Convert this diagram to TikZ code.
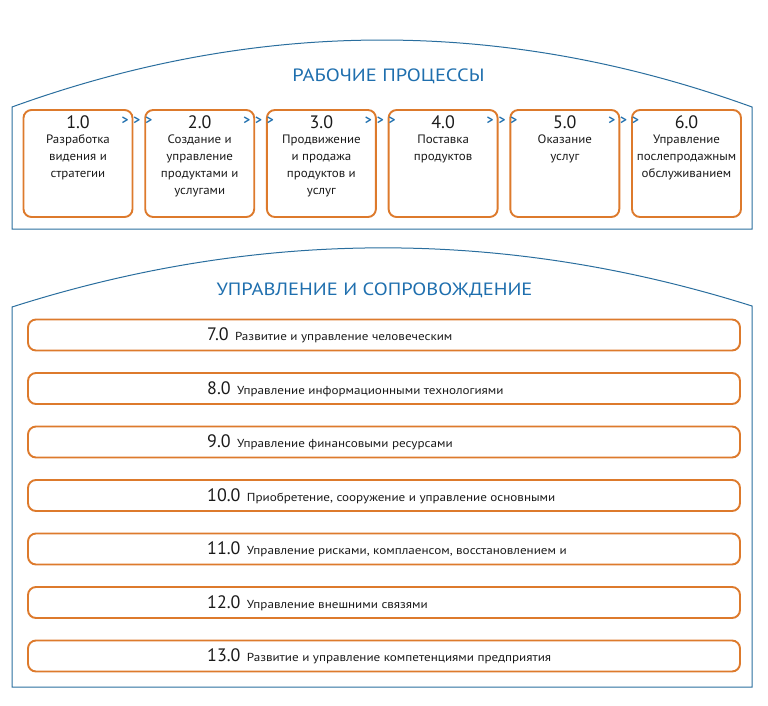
\documentclass[tikz,border=0pt]{standalone}
\usepackage{fontspec}
\setmainfont{PT Sans}
\newfontfamily\rowfont{PT Sans}[FakeStretch=1.13]
\newfontfamily\titlefont{PT Sans}[FakeStretch=1.15]
\newfontfamily\boxfont{PT Sans}[FakeStretch=1.06]
\definecolor{cblue}{HTML}{2A6E9E}
\definecolor{tblue}{HTML}{1F6FAE}
\definecolor{corange}{HTML}{DD7A2C}
\definecolor{ctext}{HTML}{1A1A1A}
\begin{document}
\begin{tikzpicture}[x=1pt,y=-1pt,
  container/.style={draw=cblue,line width=1pt},
  pbox/.style={draw=corange,line width=1.9pt,rounded corners=8pt,minimum width=109pt,minimum height=107pt,inner sep=0pt},
  rbox/.style={draw=corange,line width=1.9pt,rounded corners=8pt,minimum width=712pt,minimum height=31pt,inner sep=0pt},
  num/.style={font=\fontsize{18}{20}\selectfont,inner sep=0pt,text=ctext},
  ptext/.style={font=\boxfont\fontsize{12.2}{17}\selectfont,align=center,inner sep=0pt,text=ctext},
  rtext/.style={font=\rowfont\fontsize{11.6}{13}\selectfont,inner sep=0pt,text=ctext},
  title/.style={font=\titlefont\fontsize{17.8}{20}\selectfont,text=tblue,inner sep=0pt},
  chev/.style={font=\bfseries\fontsize{13}{14}\selectfont,text=tblue,inner sep=0pt}]
\useasboundingbox (0,0) rectangle (768,705);
% containers
\draw[container] (12,229) -- (12,107) .. controls (258.7,17.7) and (505.3,17.7) .. (752,107) -- (752,229) -- cycle;
\draw[container] (12,687) -- (12,307) .. controls (258.7,228.3) and (505.3,228.3) .. (752,306) -- (752,687) -- cycle;
% titles
\node[title,anchor=base] (t1) at (388.5,81) {РАБОЧИЕ ПРОЦЕССЫ};
\node[title,anchor=base] (t2) at (374.5,295) {УПРАВЛЕНИЕ И СОПРОВОЖДЕНИЕ};
% process boxes
\foreach \i/\n/\t in {1/1.0/{Разработка\\видения и\\стратегии},
                      2/2.0/{Создание и\\управление\\продуктами и\\услугами},
                      3/3.0/{Продвижение\\и продажа\\продуктов и\\услуг},
                      4/4.0/{Поставка\\продуктов},
                      5/5.0/{Оказание\\услуг},
                      6/6.0/{Управление\\послепродажным\\обслуживанием}}{
  \pgfmathsetmacro{\cx}{78+121.7*(\i-1)}
  \node[pbox] (p\i) at (\cx,163.5) {};
  \node[num,anchor=base] (pn\i) at (\cx,128) {\n};
  \node[ptext,anchor=north] (pt\i) at (\cx,134.5) {\t};
}
% chevrons
\foreach \i in {1,...,5}{
  \pgfmathsetmacro{\gx}{78+121.7*(\i-1)+60.85-2}
  \node[chev] (c\i) at (\gx,121) {>\hspace{5pt}>\hspace{5pt}>};
}
% management rows
\foreach \i/\n/\t in {1/7.0/{Развитие и управление человеческим},
                      2/8.0/{Управление информационными технологиями},
                      3/9.0/{Управление финансовыми ресурсами},
                      4/10.0/{Приобретение, сооружение и управление основными},
                      5/11.0/{Управление рисками, комплаенсом, восстановлением и},
                      6/12.0/{Управление внешними связями},
                      7/13.0/{Развитие и управление компетенциями предприятия}}{
  \pgfmathsetmacro{\cy}{335+53.5*(\i-1)}
  \node[rbox] (r\i) at (384,\cy) {};
  \node[num,anchor=base west] (rn\i) at (207,\cy+5.5) {\n};
  \node[rtext,anchor=base west] (rt\i) at ([xshift=6pt]rn\i.base east) {\t};
}
\end{tikzpicture}
\end{document}
